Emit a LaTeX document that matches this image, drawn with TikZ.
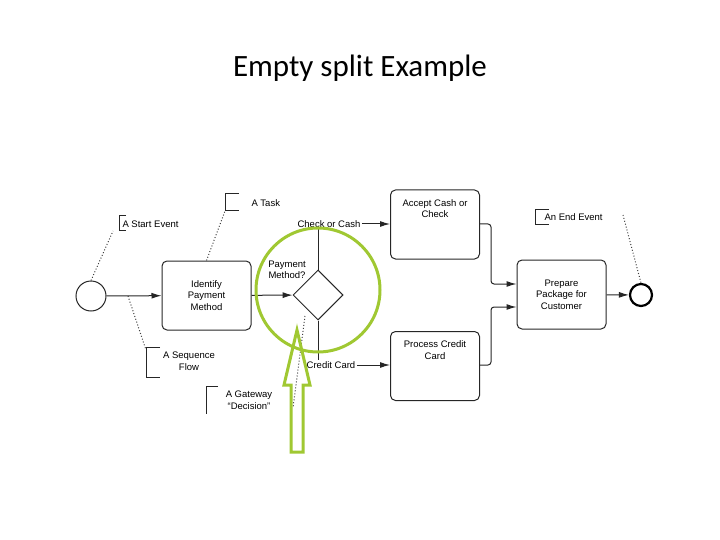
\documentclass[tikz,border=0pt]{standalone}
\usepackage{fontspec}
\setmainfont{Liberation Sans}
\newfontfamily\titlefont{Carlito}
\usetikzlibrary{arrows.meta,shapes.geometric}
\begin{document}
\begin{tikzpicture}[x=1pt,y=-1pt,line width=1pt,
  task/.style={draw=black!85,rounded corners=5pt,minimum width=89pt,minimum height=69pt,align=center,font=\fontsize{9.5}{11.5}\selectfont,inner sep=1pt},
  lbl/.style={font=\fontsize{9.5}{11.5}\selectfont,align=center,inner sep=1pt},
  flow/.style={draw=black!85,-{Latex[length=10pt,width=6pt]}},
  note/.style={dotted,draw=black!75,line width=1pt},
  brk/.style={draw=black!85}]
\useasboundingbox (0,0) rectangle (720,540);
\node[font=\titlefont\fontsize{31}{36}\selectfont] (title) at (360,68) {Empty split Example};
\node[draw=black!85,circle,minimum size=30pt,inner sep=0] (start) at (91,296) {};
\node[task] (t1) at (206.5,295.5) {Identify\\Payment\\Method};
\node[draw=black!85,diamond,minimum size=50pt,inner sep=0] (gw) at (318,295) {};
\node[task] (t2) at (435,224.5) {Accept Cash or\\Check\\[20pt]};
\node[task] (t3) at (435,366) {Process Credit\\Card\\[20pt]};
\node[task] (t4) at (561.5,294.5) {Prepare\\Package for\\Customer};
\node[draw=black,line width=2.2pt,circle,minimum size=22pt,inner sep=0] (end) at (641,295) {};
\node[lbl] (pm) at (287,270) {Payment\\Method?};
\node[lbl,fill=white] (cc) at (329,224) {Check or Cash};
\node[lbl,fill=white] (cr) at (331,365) {Credit Card};
\draw[flow] (start) -- (t1);
\draw[flow] (t1) -- (gw);
\draw[draw=black!85] (gw.north) -- (cc.south -| gw.north);
\draw[draw=black!85] (gw.south) -- (cr.north -| gw.south);
\draw[flow] (cc.east) -- (t2.west |- cc.east);
\draw[flow] (cr.east) -- (t3.west |- cr.east);
\draw[flow,rounded corners=3pt] (t2.east |- 0,224) -- (491,224) -- (491,284) -- (t4.west |- 0,284);
\draw[flow,rounded corners=3pt] (t3.east |- 0,365) -- (491,365) -- (491,307) -- (t4.west |- 0,307);
\draw[flow] (t4) -- (end);
% annotations
\node[lbl,anchor=west] (n1) at (121,224) {A Start Event};
\draw[brk] (126,216) -- (119,216) -- (119,231) -- (126,231);
\draw[note] (start.north) -- (113,231);
\node[lbl,anchor=west] (n2) at (250,203) {A Task};
\draw[brk] (239,194) -- (225,194) -- (225,211) -- (239,211);
\draw[note] (t1.north) -- (225,211);
\node[lbl] (n3) at (189,361) {A Sequence\\Flow};
\draw[brk] (160,347) -- (146,347) -- (146,377) -- (160,377);
\draw[note] (128,296) -- (146,350);
\node[lbl] (n4) at (249,400) {A Gateway\\``Decision''};
\draw[brk] (218,386) -- (206,386) -- (206,414);
\draw[note] (305,316) -- (293,408);
\node[lbl,anchor=west] (n5) at (543,217) {An End Event};
\draw[brk] (549,210) -- (535,210) -- (535,225) -- (549,225);
\draw[note] (623,215) -- (end.north);
% highlight
\definecolor{hl}{RGB}{160,200,50}
\draw[hl,line width=3pt] (318,290) circle (62);
\draw[hl,line width=3pt,line join=miter] (297,330) -- (310,385) -- (303,385) -- (303,452) -- (291,452) -- (291,385) -- (284,385) -- cycle;
\end{tikzpicture}
\end{document}
